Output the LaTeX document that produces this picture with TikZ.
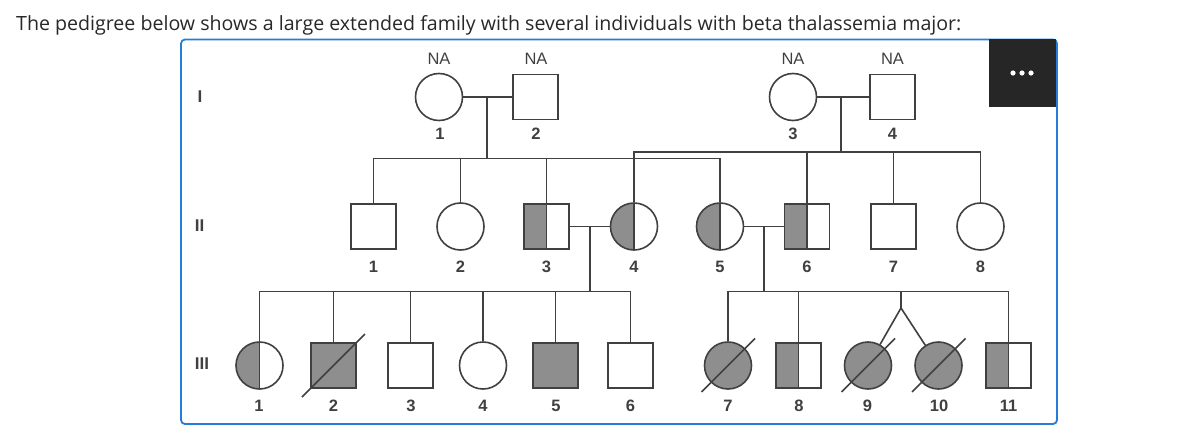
\documentclass[tikz,border=0pt]{standalone}
\usepackage{fontspec}
\setmainfont{Liberation Sans}
\newfontfamily\titlefont{Open Sans}
\usetikzlibrary{calc}
\definecolor{frameblue}{RGB}{38,125,214}
\definecolor{ink}{RGB}{64,64,64}
\definecolor{aff}{RGB}{142,142,142}
\definecolor{boxdark}{RGB}{38,38,38}
\definecolor{titlegray}{RGB}{40,40,40}
\begin{document}
\begin{tikzpicture}[x=1pt,y=-1pt,
  line/.style={draw=ink, line width=1.6pt},
  male/.style={rectangle, draw=ink, line width=1.6pt, fill=white, minimum size=45pt, inner sep=0pt},
  female/.style={circle, draw=ink, line width=1.6pt, fill=white, minimum size=47pt, inner sep=0pt},
  halfaff/.style={path picture={\fill[aff] (path picture bounding box.south west) rectangle (path picture bounding box.north); \draw[ink, line width=1.6pt] (path picture bounding box.south) -- (path picture bounding box.north);}},
  fullaff/.style={fill=aff},
  num/.style={font=\bfseries\fontsize{16.5}{16.5}\selectfont, text=ink, inner sep=0pt},
  natext/.style={font=\fontsize{16.5}{16.5}\selectfont, text=ink, inner sep=0pt},
  gen/.style={font=\bfseries\fontsize{17}{17}\selectfont, text=ink, inner sep=0pt},
]
\useasboundingbox (0,0) rectangle (1200,442);
\fill[white] (0,0) rectangle (1200,442);

% title
\node[anchor=base west, inner sep=0pt, text=titlegray, font=\titlefont\fontsize{19.6}{20}\selectfont] (title) at (16,30.5) {The pedigree below shows a large extended family with several individuals with beta thalassemia major:};

% frame
\draw[frameblue, line width=1.8pt, rounded corners=4pt] (181,39.5) rectangle (1057,424);
\fill[boxdark] (989,39) rectangle (1055.8,106.5);
\foreach \dx in {1013,1022,1031} \fill[white] (\dx,73) circle (2.6);

% generation labels
\node[gen] (gI) at (200,97) {I};
\node[gen] (gII) at (199.5,226) {II};
\node[gen] (gIII) at (202,364) {III};

% generation I
\node[female] (I1) at (439,97) {};
\node[male] (I2) at (535.5,97) {};
\node[female] (I3) at (793,97) {};
\node[male] (I4) at (892.5,97) {};
\node[natext] (na1) at (439,59) {NA};
\node[natext] (na2) at (536,59) {NA};
\node[natext] (na3) at (793,59) {NA};
\node[natext] (na4) at (892.5,59) {NA};
\node[num] (n1) at (440,133.5) {1};
\node[num] (n2) at (536,133.5) {2};
\node[num] (n3) at (793,133.5) {3};
\node[num] (n4) at (892.5,133.5) {4};

% generation II
\node[male] (II1) at (373.5,226.5) {};
\node[female] (II2) at (460.5,226.5) {};
\node[male, halfaff] (II3) at (546.5,226.5) {};
\node[female, halfaff] (II4) at (634,226.5) {};
\node[female, halfaff] (II5) at (720,226.5) {};
\node[male, halfaff] (II6) at (807,226.5) {};
\node[male] (II7) at (893.5,226.5) {};
\node[female] (II8) at (980.5,226.5) {};
\foreach \x/\t in {373.5/1,460.5/2,546.5/3,634/4,720/5,807/6,893.5/7,980.5/8}
  \node[num] (nII\t) at (\x,267) {\t};

% generation III
\node[female, halfaff] (III1) at (259.5,365.5) {};
\node[male, fullaff] (III2) at (333.5,365.5) {};
\node[male] (III3) at (410.5,365.5) {};
\node[female] (III4) at (483,365.5) {};
\node[male, fullaff] (III5) at (555.5,365.5) {};
\node[male] (III6) at (630.5,365.5) {};
\node[female, fullaff] (III7) at (728,365.5) {};
\node[male, halfaff] (III8) at (798.5,365.5) {};
\node[female, fullaff] (III9) at (868,365.5) {};
\node[female, fullaff] (III10) at (938.5,365.5) {};
\node[male, halfaff] (III11) at (1008.5,365.5) {};
\foreach \x/\t in {259/1,333.5/2,411/3,483/4,556/5,630.5/6,728/7,799/8,867.5/9,939/10,1008.5/11}
  \node[num] (nIII\t) at (\x,406) {\t};

% deceased slashes
\draw[line] ($(III2)+(-31.5,31.5)$) -- ($(III2)+(31.5,-31.5)$);
\foreach \n in {III7,III9,III10}
  \draw[line] ($(\n)+(-26.5,26.5)$) -- ($(\n)+(27,-27)$);

% coordinates
\coordinate (m12) at (487,97);
\coordinate (s12) at (487,158.5);
\coordinate (m34) at (841,97);
\coordinate (s34) at (841,152);
\coordinate (m2a) at (590,226.5);
\coordinate (s2a) at (590,291.5);
\coordinate (m2b) at (764,226.5);
\coordinate (s2b) at (764,291.5);
\coordinate (tw) at (901,291.5);
\coordinate (tw2) at (901,308);

% generation I connectors
\draw[line] (I1) -- (I2);
\draw[line] (I3) -- (I4);
\draw[line] (m12) -- (s12);
\draw[line] (m34) -- (s34);
\draw[line] (II1.north) |- (s12) -| (II5.north);
\draw[line] (II2.north) -- (II2.north |- s12);
\draw[line] (II3.north) -- (II3.north |- s12);
\draw[line] (II4.north) |- (s34) -| (II8.north);
\draw[line] (II6.north) -- (II6.north |- s34);
\draw[line] (II7.north) -- (II7.north |- s34);

% generation II connectors
\draw[line] (II3) -- (II4);
\draw[line] (II5) -- (II6);
\draw[line] (m2a) -- (s2a);
\draw[line] (m2b) -- (s2b);
\draw[line] (III1.north) |- (s2a) -| (III6.north);
\foreach \n in {III2,III3,III4,III5}
  \draw[line] (\n.north) -- (\n.north |- s2a);
\draw[line] (III7.north) |- (s2b) -| (III11.north);
\draw[line] (III8.north) -- (III8.north |- s2b);
\draw[line] (tw) -- (tw2);
\draw[line] (tw2) -- (III9);
\draw[line] (tw2) -- (III10);
\end{tikzpicture}
\end{document}
